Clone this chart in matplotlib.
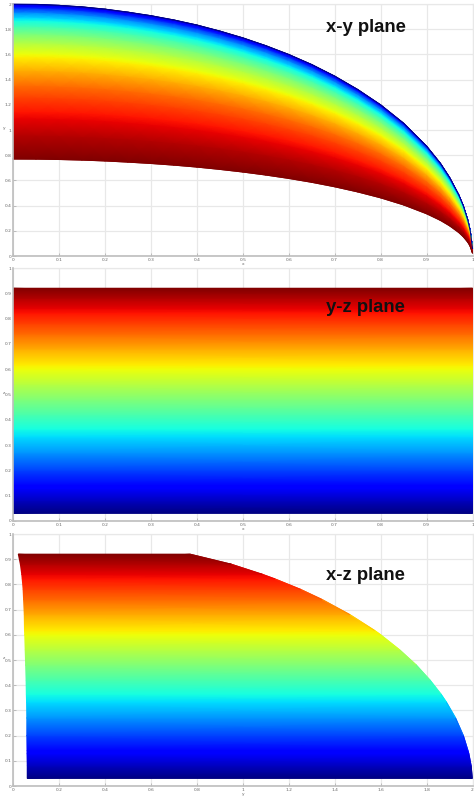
import numpy as np
import matplotlib
matplotlib.use("Agg")
import matplotlib.pyplot as plt
from matplotlib.collections import LineCollection

z_levels = [0.03, 0.08, 0.128, 0.141, 0.2, 0.27, 0.333, 0.364, 0.42, 0.48,
            0.54, 0.60, 0.617, 0.68, 0.74, 0.78, 0.822, 0.84, 0.88, 0.92]
# y at x=0 for each level (also the right edge of x-z panel)
y_at_z = [1.999, 1.994, 1.984, 1.980, 1.960, 1.926, 1.886, 1.863, 1.815, 1.755,
          1.683, 1.600, 1.574, 1.466, 1.345, 1.252, 1.139, 1.085, 0.950, 0.770]
# left edge of x-z panel
left_at_z = [0.062, 0.062, 0.061, 0.061, 0.060, 0.060, 0.059, 0.058, 0.057, 0.055,
             0.053, 0.051, 0.050, 0.049, 0.046, 0.044, 0.040, 0.038, 0.032, 0.023]
# how the curves drop along x, as a fraction of the height at x=0
x_vals = [0, 0.05, 0.1, 0.15, 0.2, 0.25, 0.3, 0.35, 0.4, 0.45, 0.5, 0.55, 0.6, 0.65,
          0.7, 0.75, 0.8, 0.85, 0.9, 0.93, 0.95, 0.97, 0.98, 0.99, 0.995, 1]
drop = [1, 0.999, 0.995, 0.989, 0.98, 0.968, 0.954, 0.937, 0.917, 0.893, 0.866, 0.835,
        0.80, 0.760, 0.714, 0.661, 0.60, 0.527, 0.436, 0.368, 0.312, 0.243, 0.199,
        0.141, 0.10, 0.03]

plane_names = ["x-y plane", "y-z plane", "x-z plane"]
x_labels = ["x", "x", "y"]
y_labels = ["y", "z", "z"]
x_ticks = [np.arange(0, 1.01, 0.1), np.arange(0, 1.01, 0.1), np.arange(0, 2.01, 0.2)]
y_ticks = [np.arange(0, 2.01, 0.2), np.arange(0, 1.01, 0.1), np.arange(0, 1.01, 0.1)]
x_limits = [1, 1, 2]
y_limits = [2, 1, 1]

W, H = 474, 799
left, right = 13, 472.5
tops = [4, 268, 534]
bottoms = [256, 521, 786]
text_y = [27, 308, 575]


def tick_text(v):
    return "%g" % round(v, 1)


z = np.array(z_levels)
fig = plt.figure(figsize=(W / 100, H / 100), dpi=100)
axes = []
for i in range(3):
    ax = fig.add_axes([left / W, 1 - bottoms[i] / H, (right - left) / W, (bottoms[i] - tops[i]) / H])
    ax.set_xlim(0, x_limits[i])
    ax.set_ylim(0, y_limits[i])
    ax.set_xticks(x_ticks[i])
    ax.set_yticks(y_ticks[i])
    ax.set_xticklabels([tick_text(v) for v in x_ticks[i]])
    ax.set_yticklabels([tick_text(v) for v in y_ticks[i]])
    ax.grid(True, color="#e8e8e8", linewidth=0.9)
    ax.set_axisbelow(True)
    ax.tick_params(direction="in", length=2, width=0.5, color="#aaaaaa", labelcolor="#666666",
                   labelsize=3.2, pad=1.2)
    for s in ["top", "right"]:
        ax.spines[s].set_color("#e8e8e8")
        ax.spines[s].set_linewidth(0.9)
    for s in ["left", "bottom"]:
        ax.spines[s].set_color("#bdbdbd")
        ax.spines[s].set_linewidth(1.2)
        ax.spines[s].set_zorder(5)
    ax.set_xlabel(x_labels[i], fontsize=3.2, color="#666666", labelpad=0.5)
    ax.set_ylabel(y_labels[i], fontsize=3.2, color="#666666", labelpad=0.5, rotation=0)
    axes.append(ax)

# x-y plane
X1, Z1 = np.meshgrid(x_vals, z)
Y1 = np.outer(y_at_z, drop)
axes[0].pcolormesh(X1, Y1, Z1, cmap="jet", vmin=z.min(), vmax=z.max(), shading="gouraud", zorder=3)
# soft lines over the mesh edges, the mesh itself is not antialiased
axes[0].plot(x_vals, Y1[0], color="#00008f", linewidth=0.8, zorder=4, clip_on=False)
axes[0].plot(x_vals, Y1[-1], color="#800000", linewidth=0.8, zorder=4, clip_on=False)

# y-z plane
X2, Z2 = np.meshgrid([0, 1], z)
axes[1].pcolormesh(X2, Z2, Z2, cmap="jet", vmin=z.min(), vmax=z.max(), shading="gouraud", zorder=3)

# x-z plane
X3 = np.column_stack([left_at_z, y_at_z])
Z3 = np.column_stack([z, z])
axes[2].pcolormesh(X3, Z3, Z3, cmap="jet", vmin=z.min(), vmax=z.max(), shading="gouraud", zorder=3)
pts = np.column_stack([y_at_z, z_levels])
segs = np.stack([pts[:-1], pts[1:]], axis=1)
edge = LineCollection(segs, cmap="jet", linewidths=0.8, zorder=4)
edge.set_array((z[:-1] + z[1:]) / 2)
edge.set_clim(z.min(), z.max())
axes[2].add_collection(edge)

for i in range(3):
    fig.text(365.5 / W, 1 - text_y[i] / H, plane_names[i], family="Liberation Sans", weight="bold",
             fontsize=13.3, color="#111111", ha="center", va="center", zorder=10)

fig.savefig("out.png", dpi=100)
